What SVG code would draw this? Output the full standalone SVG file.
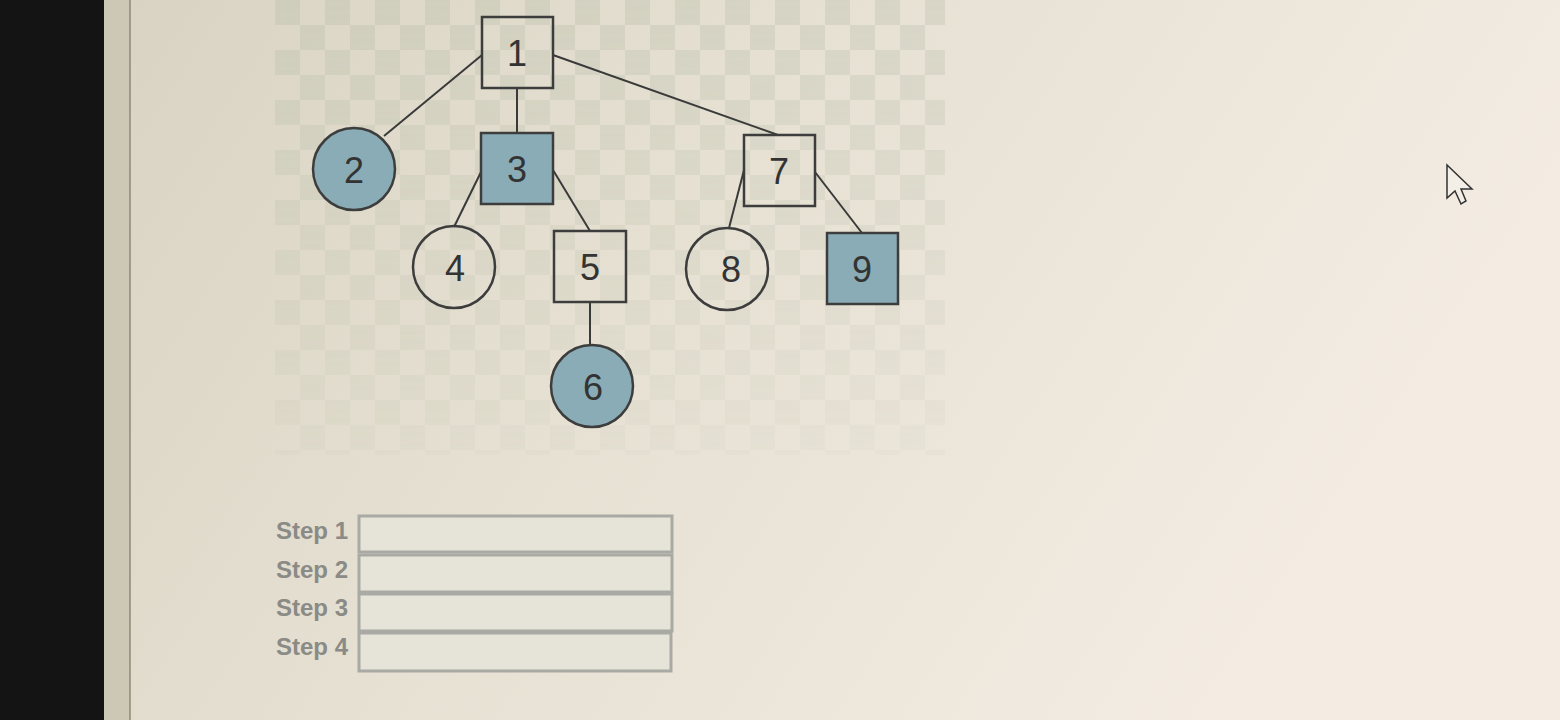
<svg xmlns="http://www.w3.org/2000/svg" width="1560" height="720" viewBox="0 0 1560 720">
<defs>
<linearGradient id="bg" x1="0" y1="0" x2="1" y2="0.3">
<stop offset="0" stop-color="#d6d1bf"/>
<stop offset="0.5" stop-color="#e6e1d3"/>
<stop offset="1" stop-color="#f4ece3"/>
</linearGradient>
<pattern id="chk" width="50" height="50" patternUnits="userSpaceOnUse" x="275" y="0">
<rect width="25" height="25" fill="#b5bca6" opacity="0.3"/>
<rect x="25" y="25" width="25" height="25" fill="#b5bca6" opacity="0.3"/>
</pattern>
<linearGradient id="fade" x1="0" y1="0" x2="0" y2="1">
<stop offset="0" stop-color="#fff" stop-opacity="1"/>
<stop offset="1" stop-color="#fff" stop-opacity="0.25"/>
</linearGradient>
<mask id="chkmask"><rect x="275" y="0" width="670" height="455" fill="url(#fade)"/></mask>
</defs>
<style>
.edge{stroke:#3a3a3a;stroke-width:2;fill:none}
.nd{stroke:#3d3d3d;stroke-width:2.5;fill:none}
.nd.f{fill:#8aacb6}
.lbl{font-family:"Liberation Sans",Arial,sans-serif;font-size:36px;fill:#333;text-anchor:middle;dominant-baseline:central}
.step{font-family:"Liberation Sans",Arial,sans-serif;font-size:24px;font-weight:bold;fill:#8a8a86}
.box{fill:#e6e3d8;stroke:#a9aaa4;stroke-width:3}
</style>
<rect width="1560" height="720" fill="url(#bg)"/>
<rect x="0" y="0" width="104" height="720" fill="#141414"/>
<rect x="104" y="0" width="26" height="720" fill="#cdc8b6"/>
<line x1="130" y1="0" x2="130" y2="720" stroke="#8e8878" stroke-width="1.5"/>
<rect x="275" y="0" width="670" height="455" fill="url(#chk)" mask="url(#chkmask)"/>
<g id="connectors">
<line class="edge" x1="482" y1="55" x2="384" y2="136"/>
<line class="edge" x1="517" y1="88" x2="517" y2="133"/>
<line class="edge" x1="553" y1="55" x2="778" y2="135"/>
<line class="edge" x1="481" y1="172" x2="454" y2="227"/>
<line class="edge" x1="553" y1="170" x2="590" y2="231"/>
<line class="edge" x1="590" y1="302" x2="590" y2="345"/>
<line class="edge" x1="744" y1="170" x2="729" y2="228"/>
<line class="edge" x1="815" y1="172" x2="862" y2="233"/>
</g>
<g id="node1"><rect class="nd" x="482" y="17" width="71" height="71"/><text class="lbl" x="517" y="53">1</text></g>
<g id="node2"><circle class="nd f" cx="354" cy="169" r="41"/><text class="lbl" x="354" y="170">2</text></g>
<g id="node3"><rect class="nd f" x="481" y="133" width="72" height="71"/><text class="lbl" x="517" y="169">3</text></g>
<g id="node4"><circle class="nd" cx="454" cy="267" r="41"/><text class="lbl" x="455" y="268">4</text></g>
<g id="node5"><rect class="nd" x="554" y="231" width="72" height="71"/><text class="lbl" x="590" y="267">5</text></g>
<g id="node6"><circle class="nd f" cx="592" cy="386" r="41"/><text class="lbl" x="593" y="387">6</text></g>
<g id="node7"><rect class="nd" x="744" y="135" width="71" height="71"/><text class="lbl" x="779" y="171">7</text></g>
<g id="node8"><circle class="nd" cx="727" cy="269" r="41"/><text class="lbl" x="731" y="269">8</text></g>
<g id="node9"><rect class="nd f" x="827" y="233" width="71" height="71"/><text class="lbl" x="862" y="269">9</text></g>
<g id="form">
<text class="step" x="276" y="539">Step 1</text>
<text class="step" x="276" y="578">Step 2</text>
<text class="step" x="276" y="616">Step 3</text>
<text class="step" x="276" y="655">Step 4</text>
<rect class="box" x="359" y="516" width="313" height="36"/>
<rect class="box" x="359" y="555" width="313" height="37"/>
<rect class="box" x="359" y="594" width="313" height="37"/>
<rect class="box" x="359" y="633" width="312" height="38"/>
</g>
<path d="M1447 165 L1447 198 L1455 191 L1461 204 L1466 201 L1461 189 L1472 189 Z" fill="#f4efe6" stroke="#333" stroke-width="1.5"/>
</svg>
